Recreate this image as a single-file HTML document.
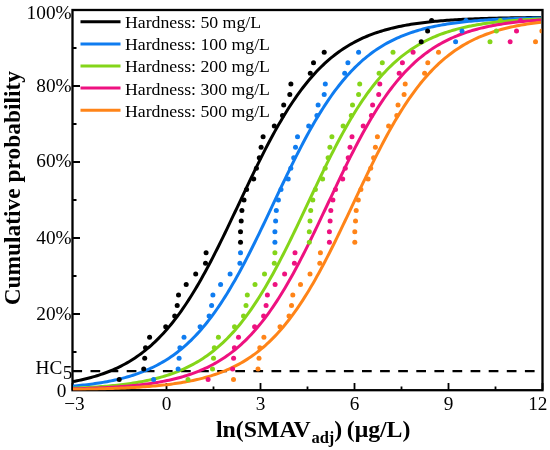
<!DOCTYPE html><html><head><meta charset="utf-8"><style>html,body{margin:0;padding:0;background:#fff}svg{display:block;will-change:transform}text{font-family:"Liberation Serif",serif}</style></head><body>
<svg width="550" height="450" viewBox="0 0 550 450">
<rect width="550" height="450" fill="#fff"/>
<line x1="73" y1="371.1" x2="541" y2="371.1" stroke="#000" stroke-width="2.1" stroke-dasharray="9.7 8.4" stroke-dashoffset="0.6"/>
<rect x="72.5" y="10" width="470" height="380.2" fill="none" stroke="#000" stroke-width="2.3"/>
<path d="M72.50,390V383M166.50,390V383M260.50,390V383M354.50,390V383M448.50,390V383M542.50,390V383M119.50,390V386.5M213.50,390V386.5M307.50,390V386.5M401.50,390V386.5M495.50,390V386.5M72.5,390.00H80M72.5,314.00H80M72.5,238.00H80M72.5,162.00H80M72.5,86.00H80M72.5,10.00H80M72.5,352.00H76.5M72.5,276.00H76.5M72.5,200.00H76.5M72.5,124.00H76.5M72.5,48.00H76.5" stroke="#000" stroke-width="1.8" fill="none"/>
<defs><clipPath id="c"><rect x="72.8" y="9" width="468.7" height="381.6"/></clipPath></defs>
<g clip-path="url(#c)">
<polyline points="73.0,381.58 75.0,381.20 77.0,380.80 79.0,380.39 81.0,379.95 83.0,379.50 85.0,379.03 87.0,378.53 89.0,378.02 91.0,377.48 93.0,376.92 95.0,376.34 97.0,375.73 99.0,375.09 101.0,374.43 103.0,373.74 105.0,373.02 107.0,372.27 109.0,371.49 111.0,370.67 113.0,369.83 115.0,368.94 117.0,368.02 119.0,367.07 121.0,366.07 123.0,365.03 125.0,363.96 127.0,362.84 129.0,361.67 131.0,360.46 133.0,359.20 135.0,357.90 137.0,356.54 139.0,355.13 141.0,353.67 143.0,352.15 145.0,350.58 147.0,348.95 149.0,347.27 151.0,345.52 153.0,343.71 155.0,341.84 157.0,339.90 159.0,337.90 161.0,335.83 163.0,333.70 165.0,331.49 167.0,329.22 169.0,326.87 171.0,324.45 173.0,321.97 175.0,319.40 177.0,316.77 179.0,314.06 181.0,311.27 183.0,308.41 185.0,305.48 187.0,302.48 189.0,299.40 191.0,296.24 193.0,293.02 195.0,289.72 197.0,286.36 199.0,282.92 201.0,279.42 203.0,275.85 205.0,272.22 207.0,268.53 209.0,264.77 211.0,260.97 213.0,257.10 215.0,253.19 217.0,249.23 219.0,245.22 221.0,241.17 223.0,237.09 225.0,232.97 227.0,228.82 229.0,224.64 231.0,220.45 233.0,216.23 235.0,212.01 237.0,207.77 239.0,203.53 241.0,199.29 243.0,195.05 245.0,190.82 247.0,186.61 249.0,182.41 251.0,178.23 253.0,174.08 255.0,169.96 257.0,165.87 259.0,161.82 261.0,157.81 263.0,153.84 265.0,149.92 267.0,146.06 269.0,142.24 271.0,138.48 273.0,134.79 275.0,131.15 277.0,127.58 279.0,124.07 281.0,120.63 283.0,117.26 285.0,113.96 287.0,110.73 289.0,107.57 291.0,104.48 293.0,101.47 295.0,98.54 297.0,95.67 299.0,92.88 301.0,90.17 303.0,87.53 305.0,84.96 307.0,82.47 309.0,80.05 311.0,77.70 313.0,75.42 315.0,73.22 317.0,71.08 319.0,69.01 321.0,67.01 323.0,65.07 325.0,63.20 327.0,61.39 329.0,59.64 331.0,57.95 333.0,56.32 335.0,54.75 337.0,53.23 339.0,51.77 341.0,50.37 343.0,49.01 345.0,47.70 347.0,46.45 349.0,45.24 351.0,44.07 353.0,42.96 355.0,41.88 357.0,40.85 359.0,39.85 361.0,38.90 363.0,37.98 365.0,37.10 367.0,36.25 369.0,35.44 371.0,34.66 373.0,33.91 375.0,33.20 377.0,32.51 379.0,31.85 381.0,31.21 383.0,30.61 385.0,30.03 387.0,29.47 389.0,28.93 391.0,28.42 393.0,27.93 395.0,27.46 397.0,27.01 399.0,26.58 401.0,26.17 403.0,25.77 405.0,25.39 407.0,25.03 409.0,24.68 411.0,24.35 413.0,24.03 415.0,23.73 417.0,23.44 419.0,23.16 421.0,22.89 423.0,22.64 425.0,22.40 427.0,22.16 429.0,21.94 431.0,21.73 433.0,21.52 435.0,21.33 437.0,21.14 439.0,20.96 441.0,20.79 443.0,20.63 445.0,20.47 447.0,20.32 449.0,20.18 451.0,20.04 453.0,19.91 455.0,19.78 457.0,19.66 459.0,19.55 461.0,19.44 463.0,19.34 465.0,19.24 467.0,19.14 469.0,19.05 471.0,18.96 473.0,18.88 475.0,18.80 477.0,18.72 479.0,18.65 481.0,18.58 483.0,18.52 485.0,18.45 487.0,18.39 489.0,18.33 491.0,18.28 493.0,18.22 495.0,18.17 497.0,18.13 499.0,18.08 501.0,18.03 503.0,17.99 505.0,17.95 507.0,17.91 509.0,17.88 511.0,17.84 513.0,17.81 515.0,17.78 517.0,17.74 519.0,17.72 521.0,17.69 523.0,17.66 525.0,17.63 527.0,17.61 529.0,17.59 531.0,17.56 533.0,17.54 535.0,17.52 537.0,17.50 539.0,17.48 541.0,17.47" fill="none" stroke="#000000" stroke-width="3" stroke-linejoin="round"/>
<polyline points="73.0,386.09 75.0,385.91 77.0,385.73 79.0,385.53 81.0,385.32 83.0,385.11 85.0,384.89 87.0,384.65 89.0,384.41 91.0,384.15 93.0,383.89 95.0,383.61 97.0,383.32 99.0,383.01 101.0,382.70 103.0,382.36 105.0,382.02 107.0,381.66 109.0,381.28 111.0,380.88 113.0,380.47 115.0,380.04 117.0,379.59 119.0,379.12 121.0,378.63 123.0,378.12 125.0,377.59 127.0,377.04 129.0,376.46 131.0,375.85 133.0,375.22 135.0,374.57 137.0,373.88 139.0,373.17 141.0,372.42 143.0,371.65 145.0,370.84 147.0,370.00 149.0,369.12 151.0,368.21 153.0,367.26 155.0,366.27 157.0,365.24 159.0,364.17 161.0,363.06 163.0,361.91 165.0,360.71 167.0,359.46 169.0,358.16 171.0,356.81 173.0,355.42 175.0,353.97 177.0,352.46 179.0,350.90 181.0,349.28 183.0,347.61 185.0,345.87 187.0,344.08 189.0,342.22 191.0,340.30 193.0,338.31 195.0,336.25 197.0,334.13 199.0,331.94 201.0,329.68 203.0,327.35 205.0,324.94 207.0,322.47 209.0,319.92 211.0,317.30 213.0,314.60 215.0,311.84 217.0,308.99 219.0,306.07 221.0,303.08 223.0,300.02 225.0,296.88 227.0,293.67 229.0,290.39 231.0,287.04 233.0,283.61 235.0,280.13 237.0,276.57 239.0,272.95 241.0,269.27 243.0,265.53 245.0,261.73 247.0,257.88 249.0,253.98 251.0,250.02 253.0,246.02 255.0,241.99 257.0,237.91 259.0,233.79 261.0,229.65 263.0,225.48 265.0,221.29 267.0,217.08 269.0,212.85 271.0,208.62 273.0,204.38 275.0,200.14 277.0,195.90 279.0,191.67 281.0,187.45 283.0,183.25 285.0,179.07 287.0,174.91 289.0,170.78 291.0,166.68 293.0,162.63 295.0,158.61 297.0,154.63 299.0,150.70 301.0,146.83 303.0,143.00 305.0,139.23 307.0,135.52 309.0,131.87 311.0,128.29 313.0,124.77 315.0,121.31 317.0,117.93 319.0,114.61 321.0,111.37 323.0,108.19 325.0,105.09 327.0,102.07 329.0,99.12 331.0,96.24 333.0,93.44 335.0,90.71 337.0,88.05 339.0,85.47 341.0,82.96 343.0,80.53 345.0,78.17 347.0,75.87 349.0,73.65 351.0,71.50 353.0,69.42 355.0,67.40 357.0,65.45 359.0,63.56 361.0,61.74 363.0,59.98 365.0,58.28 367.0,56.64 369.0,55.06 371.0,53.53 373.0,52.06 375.0,50.64 377.0,49.28 379.0,47.96 381.0,46.70 383.0,45.48 385.0,44.30 387.0,43.18 389.0,42.09 391.0,41.05 393.0,40.05 395.0,39.08 397.0,38.16 399.0,37.27 401.0,36.42 403.0,35.60 405.0,34.81 407.0,34.06 409.0,33.34 411.0,32.64 413.0,31.98 415.0,31.34 417.0,30.73 419.0,30.14 421.0,29.58 423.0,29.04 425.0,28.52 427.0,28.03 429.0,27.55 431.0,27.10 433.0,26.67 435.0,26.25 437.0,25.85 439.0,25.47 441.0,25.10 443.0,24.75 445.0,24.42 447.0,24.10 449.0,23.79 451.0,23.50 453.0,23.22 455.0,22.95 457.0,22.69 459.0,22.44 461.0,22.21 463.0,21.98 465.0,21.77 467.0,21.56 469.0,21.36 471.0,21.18 473.0,20.99 475.0,20.82 477.0,20.66 479.0,20.50 481.0,20.35 483.0,20.20 485.0,20.07 487.0,19.93 489.0,19.81 491.0,19.69 493.0,19.57 495.0,19.46 497.0,19.36 499.0,19.26 501.0,19.16 503.0,19.07 505.0,18.98 507.0,18.90 509.0,18.82 511.0,18.74 513.0,18.67 515.0,18.60 517.0,18.53 519.0,18.46 521.0,18.40 523.0,18.34 525.0,18.29 527.0,18.23 529.0,18.18 531.0,18.13 533.0,18.09 535.0,18.04 537.0,18.00 539.0,17.96 541.0,17.92" fill="none" stroke="#0f7cf0" stroke-width="3" stroke-linejoin="round"/>
<polyline points="73.0,388.20 75.0,388.11 77.0,388.03 79.0,387.94 81.0,387.84 83.0,387.74 85.0,387.64 87.0,387.53 89.0,387.42 91.0,387.30 93.0,387.17 95.0,387.04 97.0,386.91 99.0,386.76 101.0,386.61 103.0,386.46 105.0,386.30 107.0,386.13 109.0,385.95 111.0,385.76 113.0,385.57 115.0,385.37 117.0,385.15 119.0,384.93 121.0,384.70 123.0,384.46 125.0,384.21 127.0,383.94 129.0,383.67 131.0,383.38 133.0,383.08 135.0,382.76 137.0,382.43 139.0,382.09 141.0,381.73 143.0,381.36 145.0,380.96 147.0,380.56 149.0,380.13 151.0,379.68 153.0,379.22 155.0,378.73 157.0,378.23 159.0,377.70 161.0,377.15 163.0,376.58 165.0,375.98 167.0,375.35 169.0,374.70 171.0,374.02 173.0,373.31 175.0,372.57 177.0,371.80 179.0,371.00 181.0,370.17 183.0,369.30 185.0,368.39 187.0,367.45 189.0,366.47 191.0,365.45 193.0,364.39 195.0,363.29 197.0,362.14 199.0,360.95 201.0,359.71 203.0,358.42 205.0,357.09 207.0,355.70 209.0,354.26 211.0,352.77 213.0,351.22 215.0,349.61 217.0,347.95 219.0,346.23 221.0,344.44 223.0,342.60 225.0,340.68 227.0,338.71 229.0,336.67 231.0,334.56 233.0,332.38 235.0,330.14 237.0,327.82 239.0,325.43 241.0,322.97 243.0,320.44 245.0,317.83 247.0,315.15 249.0,312.40 251.0,309.57 253.0,306.66 255.0,303.69 257.0,300.64 259.0,297.51 261.0,294.32 263.0,291.05 265.0,287.71 267.0,284.30 269.0,280.83 271.0,277.29 273.0,273.68 275.0,270.01 277.0,266.28 279.0,262.50 281.0,258.65 283.0,254.76 285.0,250.82 287.0,246.83 289.0,242.80 291.0,238.73 293.0,234.62 295.0,230.48 297.0,226.32 299.0,222.13 301.0,217.92 303.0,213.70 305.0,209.47 307.0,205.23 309.0,200.98 311.0,196.75 313.0,192.51 315.0,188.29 317.0,184.09 319.0,179.90 321.0,175.74 323.0,171.60 325.0,167.50 327.0,163.43 329.0,159.41 331.0,155.42 333.0,151.49 335.0,147.60 337.0,143.76 339.0,139.98 341.0,136.26 343.0,132.60 345.0,129.00 347.0,125.46 349.0,122.00 351.0,118.60 353.0,115.27 355.0,112.01 357.0,108.82 359.0,105.71 361.0,102.67 363.0,99.70 365.0,96.81 367.0,93.99 369.0,91.25 371.0,88.58 373.0,85.98 375.0,83.46 377.0,81.01 379.0,78.63 381.0,76.33 383.0,74.09 385.0,71.93 387.0,69.83 389.0,67.80 391.0,65.84 393.0,63.94 395.0,62.10 397.0,60.33 399.0,58.62 401.0,56.96 403.0,55.37 405.0,53.83 407.0,52.35 409.0,50.92 411.0,49.55 413.0,48.22 415.0,46.94 417.0,45.72 419.0,44.53 421.0,43.40 423.0,42.31 425.0,41.25 427.0,40.24 429.0,39.27 431.0,38.34 433.0,37.45 435.0,36.59 437.0,35.76 439.0,34.97 441.0,34.21 443.0,33.48 445.0,32.78 447.0,32.11 449.0,31.46 451.0,30.85 453.0,30.26 455.0,29.69 457.0,29.15 459.0,28.62 461.0,28.13 463.0,27.65 465.0,27.19 467.0,26.75 469.0,26.33 471.0,25.93 473.0,25.54 475.0,25.17 477.0,24.82 479.0,24.48 481.0,24.16 483.0,23.85 485.0,23.55 487.0,23.27 489.0,23.00 491.0,22.74 493.0,22.49 495.0,22.25 497.0,22.03 499.0,21.81 501.0,21.60 503.0,21.40 505.0,21.21 507.0,21.03 509.0,20.86 511.0,20.69 513.0,20.53 515.0,20.38 517.0,20.23 519.0,20.09 521.0,19.96 523.0,19.83 525.0,19.71 527.0,19.60 529.0,19.48 531.0,19.38 533.0,19.28 535.0,19.18 537.0,19.09 539.0,19.00 541.0,18.91" fill="none" stroke="#84d519" stroke-width="3" stroke-linejoin="round"/>
<polyline points="73.0,388.86 75.0,388.80 77.0,388.75 79.0,388.69 81.0,388.63 83.0,388.57 85.0,388.50 87.0,388.43 89.0,388.36 91.0,388.28 93.0,388.20 95.0,388.12 97.0,388.03 99.0,387.94 101.0,387.85 103.0,387.75 105.0,387.64 107.0,387.54 109.0,387.42 111.0,387.30 113.0,387.18 115.0,387.05 117.0,386.91 119.0,386.77 121.0,386.62 123.0,386.47 125.0,386.31 127.0,386.14 129.0,385.96 131.0,385.78 133.0,385.58 135.0,385.38 137.0,385.17 139.0,384.95 141.0,384.72 143.0,384.48 145.0,384.22 147.0,383.96 149.0,383.68 151.0,383.40 153.0,383.10 155.0,382.78 157.0,382.45 159.0,382.11 161.0,381.75 163.0,381.38 165.0,380.99 167.0,380.58 169.0,380.16 171.0,379.71 173.0,379.25 175.0,378.77 177.0,378.26 179.0,377.74 181.0,377.19 183.0,376.61 185.0,376.02 187.0,375.39 189.0,374.74 191.0,374.06 193.0,373.36 195.0,372.62 197.0,371.86 199.0,371.06 201.0,370.22 203.0,369.36 205.0,368.45 207.0,367.52 209.0,366.54 211.0,365.52 213.0,364.46 215.0,363.36 217.0,362.22 219.0,361.03 221.0,359.79 223.0,358.51 225.0,357.18 227.0,355.79 229.0,354.36 231.0,352.87 233.0,351.32 235.0,349.72 237.0,348.06 239.0,346.34 241.0,344.56 243.0,342.72 245.0,340.81 247.0,338.84 249.0,336.80 251.0,334.70 253.0,332.53 255.0,330.28 257.0,327.97 259.0,325.59 261.0,323.13 263.0,320.60 265.0,318.00 267.0,315.33 269.0,312.58 271.0,309.75 273.0,306.86 275.0,303.88 277.0,300.84 279.0,297.72 281.0,294.53 283.0,291.26 285.0,287.93 287.0,284.53 289.0,281.06 291.0,277.52 293.0,273.92 295.0,270.25 297.0,266.53 299.0,262.74 301.0,258.91 303.0,255.01 305.0,251.07 307.0,247.09 309.0,243.06 311.0,238.99 313.0,234.89 315.0,230.75 317.0,226.59 319.0,222.40 321.0,218.20 323.0,213.97 325.0,209.74 327.0,205.50 329.0,201.26 331.0,197.02 333.0,192.79 335.0,188.57 337.0,184.36 339.0,180.17 341.0,176.01 343.0,171.87 345.0,167.77 347.0,163.70 349.0,159.67 351.0,155.68 353.0,151.74 355.0,147.85 357.0,144.01 359.0,140.22 361.0,136.50 363.0,132.83 365.0,129.23 367.0,125.69 369.0,122.22 371.0,118.82 373.0,115.48 375.0,112.22 377.0,109.03 379.0,105.91 381.0,102.86 383.0,99.89 385.0,96.99 387.0,94.17 389.0,91.42 391.0,88.75 393.0,86.15 395.0,83.62 397.0,81.17 399.0,78.79 401.0,76.47 403.0,74.24 405.0,72.06 407.0,69.96 409.0,67.93 411.0,65.96 413.0,64.06 415.0,62.22 417.0,60.44 419.0,58.73 421.0,57.07 423.0,55.47 425.0,53.93 427.0,52.45 429.0,51.01 431.0,49.63 433.0,48.31 435.0,47.03 437.0,45.80 439.0,44.61 441.0,43.47 443.0,42.37 445.0,41.32 447.0,40.31 449.0,39.34 451.0,38.40 453.0,37.50 455.0,36.64 457.0,35.81 459.0,35.02 461.0,34.26 463.0,33.53 465.0,32.82 467.0,32.15 469.0,31.51 471.0,30.89 473.0,30.29 475.0,29.73 477.0,29.18 479.0,28.66 481.0,28.16 483.0,27.68 485.0,27.22 487.0,26.78 489.0,26.36 491.0,25.95 493.0,25.57 495.0,25.20 497.0,24.84 499.0,24.51 501.0,24.18 503.0,23.87 505.0,23.57 507.0,23.29 509.0,23.02 511.0,22.76 513.0,22.51 515.0,22.27 517.0,22.04 519.0,21.82 521.0,21.61 523.0,21.42 525.0,21.22 527.0,21.04 529.0,20.87 531.0,20.70 533.0,20.54 535.0,20.39 537.0,20.24 539.0,20.10 541.0,19.97" fill="none" stroke="#ee1180" stroke-width="3" stroke-linejoin="round"/>
<polyline points="73.0,389.35 75.0,389.32 77.0,389.29 79.0,389.26 81.0,389.23 83.0,389.19 85.0,389.15 87.0,389.11 89.0,389.07 91.0,389.03 93.0,388.99 95.0,388.94 97.0,388.89 99.0,388.84 101.0,388.78 103.0,388.73 105.0,388.67 107.0,388.61 109.0,388.54 111.0,388.48 113.0,388.41 115.0,388.33 117.0,388.26 119.0,388.18 121.0,388.09 123.0,388.00 125.0,387.91 127.0,387.82 129.0,387.71 131.0,387.61 133.0,387.50 135.0,387.38 137.0,387.26 139.0,387.14 141.0,387.01 143.0,386.87 145.0,386.72 147.0,386.57 149.0,386.42 151.0,386.25 153.0,386.08 155.0,385.90 157.0,385.71 159.0,385.52 161.0,385.31 163.0,385.10 165.0,384.87 167.0,384.64 169.0,384.39 171.0,384.14 173.0,383.87 175.0,383.59 177.0,383.30 179.0,382.99 181.0,382.68 183.0,382.34 185.0,382.00 187.0,381.63 189.0,381.25 191.0,380.86 193.0,380.44 195.0,380.01 197.0,379.56 199.0,379.09 201.0,378.60 203.0,378.09 205.0,377.56 207.0,377.00 209.0,376.42 211.0,375.81 213.0,375.18 215.0,374.52 217.0,373.83 219.0,373.12 221.0,372.37 223.0,371.60 225.0,370.79 227.0,369.94 229.0,369.06 231.0,368.15 233.0,367.20 235.0,366.21 237.0,365.18 239.0,364.10 241.0,362.99 243.0,361.83 245.0,360.63 247.0,359.37 249.0,358.07 251.0,356.72 253.0,355.32 255.0,353.87 257.0,352.36 259.0,350.80 261.0,349.18 263.0,347.50 265.0,345.76 267.0,343.96 269.0,342.10 271.0,340.17 273.0,338.18 275.0,336.12 277.0,333.99 279.0,331.79 281.0,329.53 283.0,327.19 285.0,324.79 287.0,322.31 289.0,319.75 291.0,317.13 293.0,314.43 295.0,311.65 297.0,308.80 299.0,305.88 301.0,302.89 303.0,299.82 305.0,296.67 307.0,293.46 309.0,290.17 311.0,286.82 313.0,283.39 315.0,279.90 317.0,276.34 319.0,272.71 321.0,269.03 323.0,265.28 325.0,261.48 327.0,257.63 329.0,253.72 331.0,249.76 333.0,245.76 335.0,241.72 337.0,237.64 339.0,233.53 341.0,229.38 343.0,225.21 345.0,221.02 347.0,216.80 349.0,212.58 351.0,208.34 353.0,204.10 355.0,199.86 357.0,195.62 359.0,191.39 361.0,187.18 363.0,182.97 365.0,178.79 367.0,174.64 369.0,170.51 371.0,166.42 373.0,162.36 375.0,158.35 377.0,154.37 379.0,150.45 381.0,146.58 383.0,142.75 385.0,138.99 387.0,135.28 389.0,131.64 391.0,128.06 393.0,124.54 395.0,121.09 397.0,117.71 399.0,114.40 401.0,111.16 403.0,107.99 405.0,104.90 407.0,101.87 409.0,98.93 411.0,96.05 413.0,93.26 415.0,90.53 417.0,87.88 419.0,85.31 421.0,82.80 423.0,80.37 425.0,78.02 427.0,75.73 429.0,73.51 431.0,71.36 433.0,69.28 435.0,67.27 437.0,65.33 439.0,63.44 441.0,61.63 443.0,59.87 445.0,58.17 447.0,56.54 449.0,54.96 451.0,53.44 453.0,51.97 455.0,50.55 457.0,49.19 459.0,47.88 461.0,46.61 463.0,45.40 465.0,44.23 467.0,43.10 469.0,42.02 471.0,40.98 473.0,39.98 475.0,39.02 477.0,38.10 479.0,37.22 481.0,36.36 483.0,35.55 485.0,34.76 487.0,34.01 489.0,33.29 491.0,32.60 493.0,31.94 495.0,31.30 497.0,30.69 499.0,30.10 501.0,29.54 503.0,29.01 505.0,28.49 507.0,28.00 509.0,27.52 511.0,27.07 513.0,26.64 515.0,26.22 517.0,25.83 519.0,25.44 521.0,25.08 523.0,24.73 525.0,24.40 527.0,24.08 529.0,23.77 531.0,23.48 533.0,23.20 535.0,22.93 537.0,22.67 539.0,22.43 541.0,22.19" fill="none" stroke="#ff8418" stroke-width="3" stroke-linejoin="round"/>
<g fill="#000000"><circle cx="119.2" cy="379.44" r="2.5"/><circle cx="143.7" cy="368.89" r="2.5"/><circle cx="144.7" cy="358.33" r="2.5"/><circle cx="145.5" cy="347.78" r="2.5"/><circle cx="149.6" cy="337.22" r="2.5"/><circle cx="165.7" cy="326.67" r="2.5"/><circle cx="174.7" cy="316.11" r="2.5"/><circle cx="177.2" cy="305.56" r="2.5"/><circle cx="178.5" cy="295.00" r="2.5"/><circle cx="186.2" cy="284.44" r="2.5"/><circle cx="195.7" cy="273.89" r="2.5"/><circle cx="205.5" cy="263.33" r="2.5"/><circle cx="206.1" cy="252.78" r="2.5"/><circle cx="240.5" cy="242.22" r="2.5"/><circle cx="240.5" cy="231.67" r="2.5"/><circle cx="241.2" cy="221.11" r="2.5"/><circle cx="241.9" cy="210.56" r="2.5"/><circle cx="244.0" cy="200.00" r="2.5"/><circle cx="246.6" cy="189.44" r="2.5"/><circle cx="253.8" cy="178.89" r="2.5"/><circle cx="256.4" cy="168.33" r="2.5"/><circle cx="259.3" cy="157.78" r="2.5"/><circle cx="261.1" cy="147.22" r="2.5"/><circle cx="263.1" cy="136.67" r="2.5"/><circle cx="274.3" cy="126.11" r="2.5"/><circle cx="282.5" cy="115.56" r="2.5"/><circle cx="283.7" cy="105.00" r="2.5"/><circle cx="289.8" cy="94.44" r="2.5"/><circle cx="290.9" cy="83.89" r="2.5"/><circle cx="310.3" cy="73.33" r="2.5"/><circle cx="313.5" cy="62.78" r="2.5"/><circle cx="324.2" cy="52.22" r="2.5"/><circle cx="421.2" cy="41.67" r="2.5"/><circle cx="427.6" cy="31.11" r="2.5"/><circle cx="431.6" cy="20.56" r="2.5"/></g>
<g fill="#0f7cf0"><circle cx="153.6" cy="379.44" r="2.5"/><circle cx="178.1" cy="368.89" r="2.5"/><circle cx="179.1" cy="358.33" r="2.5"/><circle cx="179.9" cy="347.78" r="2.5"/><circle cx="184.0" cy="337.22" r="2.5"/><circle cx="200.1" cy="326.67" r="2.5"/><circle cx="209.1" cy="316.11" r="2.5"/><circle cx="211.6" cy="305.56" r="2.5"/><circle cx="212.9" cy="295.00" r="2.5"/><circle cx="220.6" cy="284.44" r="2.5"/><circle cx="230.1" cy="273.89" r="2.5"/><circle cx="239.9" cy="263.33" r="2.5"/><circle cx="240.5" cy="252.78" r="2.5"/><circle cx="274.9" cy="242.22" r="2.5"/><circle cx="274.9" cy="231.67" r="2.5"/><circle cx="275.6" cy="221.11" r="2.5"/><circle cx="276.3" cy="210.56" r="2.5"/><circle cx="278.4" cy="200.00" r="2.5"/><circle cx="281.0" cy="189.44" r="2.5"/><circle cx="288.2" cy="178.89" r="2.5"/><circle cx="290.8" cy="168.33" r="2.5"/><circle cx="293.7" cy="157.78" r="2.5"/><circle cx="295.5" cy="147.22" r="2.5"/><circle cx="297.5" cy="136.67" r="2.5"/><circle cx="308.7" cy="126.11" r="2.5"/><circle cx="316.9" cy="115.56" r="2.5"/><circle cx="318.1" cy="105.00" r="2.5"/><circle cx="324.2" cy="94.44" r="2.5"/><circle cx="325.3" cy="83.89" r="2.5"/><circle cx="344.7" cy="73.33" r="2.5"/><circle cx="347.9" cy="62.78" r="2.5"/><circle cx="358.6" cy="52.22" r="2.5"/><circle cx="455.6" cy="41.67" r="2.5"/><circle cx="462.0" cy="31.11" r="2.5"/><circle cx="466.0" cy="20.56" r="2.5"/></g>
<g fill="#84d519"><circle cx="188.0" cy="379.44" r="2.5"/><circle cx="212.5" cy="368.89" r="2.5"/><circle cx="213.5" cy="358.33" r="2.5"/><circle cx="214.3" cy="347.78" r="2.5"/><circle cx="218.4" cy="337.22" r="2.5"/><circle cx="234.5" cy="326.67" r="2.5"/><circle cx="243.5" cy="316.11" r="2.5"/><circle cx="246.0" cy="305.56" r="2.5"/><circle cx="247.3" cy="295.00" r="2.5"/><circle cx="255.0" cy="284.44" r="2.5"/><circle cx="264.5" cy="273.89" r="2.5"/><circle cx="274.3" cy="263.33" r="2.5"/><circle cx="274.9" cy="252.78" r="2.5"/><circle cx="309.3" cy="242.22" r="2.5"/><circle cx="309.3" cy="231.67" r="2.5"/><circle cx="310.0" cy="221.11" r="2.5"/><circle cx="310.7" cy="210.56" r="2.5"/><circle cx="312.8" cy="200.00" r="2.5"/><circle cx="315.4" cy="189.44" r="2.5"/><circle cx="322.6" cy="178.89" r="2.5"/><circle cx="325.2" cy="168.33" r="2.5"/><circle cx="328.1" cy="157.78" r="2.5"/><circle cx="329.9" cy="147.22" r="2.5"/><circle cx="331.9" cy="136.67" r="2.5"/><circle cx="343.1" cy="126.11" r="2.5"/><circle cx="351.3" cy="115.56" r="2.5"/><circle cx="352.5" cy="105.00" r="2.5"/><circle cx="358.6" cy="94.44" r="2.5"/><circle cx="359.7" cy="83.89" r="2.5"/><circle cx="379.1" cy="73.33" r="2.5"/><circle cx="382.3" cy="62.78" r="2.5"/><circle cx="393.0" cy="52.22" r="2.5"/><circle cx="490.0" cy="41.67" r="2.5"/><circle cx="496.4" cy="31.11" r="2.5"/><circle cx="500.4" cy="20.56" r="2.5"/></g>
<g fill="#ee1180"><circle cx="208.1" cy="379.44" r="2.5"/><circle cx="232.6" cy="368.89" r="2.5"/><circle cx="233.6" cy="358.33" r="2.5"/><circle cx="234.4" cy="347.78" r="2.5"/><circle cx="238.5" cy="337.22" r="2.5"/><circle cx="254.6" cy="326.67" r="2.5"/><circle cx="263.6" cy="316.11" r="2.5"/><circle cx="266.1" cy="305.56" r="2.5"/><circle cx="267.4" cy="295.00" r="2.5"/><circle cx="275.1" cy="284.44" r="2.5"/><circle cx="284.6" cy="273.89" r="2.5"/><circle cx="294.4" cy="263.33" r="2.5"/><circle cx="295.0" cy="252.78" r="2.5"/><circle cx="329.4" cy="242.22" r="2.5"/><circle cx="329.4" cy="231.67" r="2.5"/><circle cx="330.1" cy="221.11" r="2.5"/><circle cx="330.8" cy="210.56" r="2.5"/><circle cx="332.9" cy="200.00" r="2.5"/><circle cx="335.5" cy="189.44" r="2.5"/><circle cx="342.7" cy="178.89" r="2.5"/><circle cx="345.3" cy="168.33" r="2.5"/><circle cx="348.2" cy="157.78" r="2.5"/><circle cx="350.0" cy="147.22" r="2.5"/><circle cx="352.0" cy="136.67" r="2.5"/><circle cx="363.2" cy="126.11" r="2.5"/><circle cx="371.4" cy="115.56" r="2.5"/><circle cx="372.6" cy="105.00" r="2.5"/><circle cx="378.7" cy="94.44" r="2.5"/><circle cx="379.8" cy="83.89" r="2.5"/><circle cx="399.2" cy="73.33" r="2.5"/><circle cx="402.4" cy="62.78" r="2.5"/><circle cx="413.1" cy="52.22" r="2.5"/><circle cx="510.1" cy="41.67" r="2.5"/><circle cx="516.5" cy="31.11" r="2.5"/><circle cx="520.5" cy="20.56" r="2.5"/></g>
<g fill="#ff8418"><circle cx="233.5" cy="379.44" r="2.5"/><circle cx="258.0" cy="368.89" r="2.5"/><circle cx="259.0" cy="358.33" r="2.5"/><circle cx="259.8" cy="347.78" r="2.5"/><circle cx="263.9" cy="337.22" r="2.5"/><circle cx="280.0" cy="326.67" r="2.5"/><circle cx="289.0" cy="316.11" r="2.5"/><circle cx="291.5" cy="305.56" r="2.5"/><circle cx="292.8" cy="295.00" r="2.5"/><circle cx="300.5" cy="284.44" r="2.5"/><circle cx="310.0" cy="273.89" r="2.5"/><circle cx="319.8" cy="263.33" r="2.5"/><circle cx="320.4" cy="252.78" r="2.5"/><circle cx="354.8" cy="242.22" r="2.5"/><circle cx="354.8" cy="231.67" r="2.5"/><circle cx="355.5" cy="221.11" r="2.5"/><circle cx="356.2" cy="210.56" r="2.5"/><circle cx="358.3" cy="200.00" r="2.5"/><circle cx="360.9" cy="189.44" r="2.5"/><circle cx="368.1" cy="178.89" r="2.5"/><circle cx="370.7" cy="168.33" r="2.5"/><circle cx="373.6" cy="157.78" r="2.5"/><circle cx="375.4" cy="147.22" r="2.5"/><circle cx="377.4" cy="136.67" r="2.5"/><circle cx="388.6" cy="126.11" r="2.5"/><circle cx="396.8" cy="115.56" r="2.5"/><circle cx="398.0" cy="105.00" r="2.5"/><circle cx="404.1" cy="94.44" r="2.5"/><circle cx="405.2" cy="83.89" r="2.5"/><circle cx="424.6" cy="73.33" r="2.5"/><circle cx="427.8" cy="62.78" r="2.5"/><circle cx="438.5" cy="52.22" r="2.5"/><circle cx="535.5" cy="41.67" r="2.5"/><circle cx="541.9" cy="31.11" r="2.5"/><circle cx="545.9" cy="20.56" r="2.5"/></g>
</g>
<text x="74.5" y="409.5" font-size="19.3" text-anchor="middle">−3</text>
<text x="166.5" y="409.5" font-size="19.3" text-anchor="middle">0</text>
<text x="260.5" y="409.5" font-size="19.3" text-anchor="middle">3</text>
<text x="354.5" y="409.5" font-size="19.3" text-anchor="middle">6</text>
<text x="448.5" y="409.5" font-size="19.3" text-anchor="middle">9</text>
<text x="537.8" y="409.5" font-size="19.3" text-anchor="middle">12</text>
<text x="66.3" y="396.80" font-size="19.3" text-anchor="end">0</text>
<text x="71.6" y="320.00" font-size="19.3" text-anchor="end">20%</text>
<text x="71.6" y="243.50" font-size="19.3" text-anchor="end">40%</text>
<text x="71.6" y="167.00" font-size="19.3" text-anchor="end">60%</text>
<text x="71.6" y="91.75" font-size="19.3" text-anchor="end">80%</text>
<text x="71.6" y="18.75" font-size="19.3" text-anchor="end">100%</text>
<text x="35.5" y="373.5" font-size="19.3">HC</text><text x="62.8" y="378.8" font-size="19.3">5</text>
<line x1="80.5" y1="21.8" x2="120.5" y2="21.8" stroke="#000000" stroke-width="3"/>
<text x="125" y="28.2" font-size="17.75">Hardness: 50 mg/L</text>
<line x1="80.5" y1="43.9" x2="120.5" y2="43.9" stroke="#0f7cf0" stroke-width="3"/>
<text x="125" y="50.3" font-size="17.75">Hardness: 100 mg/L</text>
<line x1="80.5" y1="66.0" x2="120.5" y2="66.0" stroke="#84d519" stroke-width="3"/>
<text x="125" y="72.4" font-size="17.75">Hardness: 200 mg/L</text>
<line x1="80.5" y1="88.1" x2="120.5" y2="88.1" stroke="#ee1180" stroke-width="3"/>
<text x="125" y="94.5" font-size="17.75">Hardness: 300 mg/L</text>
<line x1="80.5" y1="110.2" x2="120.5" y2="110.2" stroke="#ff8418" stroke-width="3"/>
<text x="125" y="116.6" font-size="17.75">Hardness: 500 mg/L</text>
<text transform="translate(19.9,188.2) rotate(-90)" font-size="23.4" font-weight="bold" text-anchor="middle">Cumulative probability</text>
<text x="216" y="437" font-size="23.8" font-weight="bold">ln(SMAV<tspan font-size="16.5" dx="0.6" dy="5.5">adj</tspan><tspan dy="-5.5">)</tspan><tspan dx="-1.3" letter-spacing="-0.05"> (μg/L)</tspan></text>
</svg></body></html>
